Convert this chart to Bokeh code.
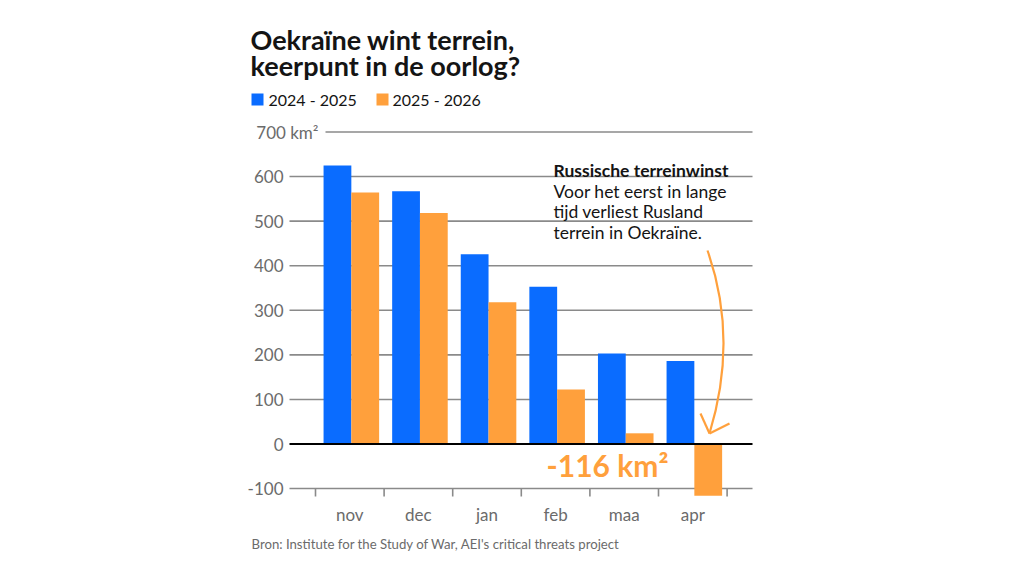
from bokeh.plotting import figure
from bokeh.models import Range1d
from bokeh.core.properties import value
from bokeh.embed import file_html
from bokeh.resources import INLINE

# --- data -------------------------------------------------------------
months = ["nov", "dec", "jan", "feb", "maa", "apr"]
gain_2024_2025 = [625, 567, 426, 353, 203, 186]
gain_2025_2026 = [564, 518, 318, 122, 24, -116]
series_names = ["2024 - 2025", "2025 - 2026"]
y_ticks = [-100, 0, 100, 200, 300, 400, 500, 600, 700]
y_tick_labels = ["-100", "0", "100", "200", "300", "400", "500", "600", "700 km²"]

# --- style ------------------------------------------------------------
BLUE = "#0a6cff"
ORANGE = "#ffa03c"
GRID = "#8a8a8a"
LABEL = "#6b6b6b"
INK = "#141414"
FONT = "Lato"

W, H = 1024, 576
# canvas geometry: one category is UNIT_PX wide, first boundary at X0_PX;
# y = 0 sits at Y0_PX and KM_PX pixels make one km²
X0_PX, UNIT_PX = 315.0, 68.6
Y0_PX, KM_PX = 443.5, 312.0 / 700.0


def px2x(px):
    return (px - X0_PX) / UNIT_PX


def px2y(py):
    return (Y0_PX - py) / KM_PX


p = figure(
    width=W, height=H,
    x_range=Range1d(px2x(0), px2x(W)),
    y_range=Range1d(px2y(H), px2y(0)),
    x_axis_location=None, y_axis_location=None,
    toolbar_location=None, output_backend="svg",
    min_border=0, outline_line_color=None,
)
p.grid.visible = False
p.background_fill_color = "white"
p.border_fill_color = "white"

# horizontal grid lines (the 700 line starts after its longer label)
grid_y = [t for t in y_ticks if t != 0]
grid_x0 = [px2x(325) if t == 700 else px2x(289) for t in grid_y]
p.segment(x0=grid_x0, y0=grid_y, x1=[px2x(752)] * len(grid_y), y1=grid_y,
          line_color=GRID, line_width=1.6)

# y tick labels, right-aligned just before their grid line
label_x = [px2x(318) if t == 700 else px2x(283) for t in y_ticks]
p.text(x=label_x, y=y_ticks, text=y_tick_labels,
       text_font=value(FONT), text_font_size="17px", text_color=LABEL,
       text_align="right", text_baseline="middle")

# bars
idx = list(range(len(months)))
p.vbar(x=[i + 0.32 for i in idx], top=gain_2024_2025, bottom=0, width=0.405,
       fill_color=BLUE, line_color=None)
p.vbar(x=[i + 0.725 for i in idx], top=gain_2025_2026, bottom=0, width=0.405,
       fill_color=ORANGE, line_color=None)

# zero line on top of bars
p.segment(x0=[px2x(289)], y0=[0], x1=[px2x(752)], y1=[0],
          line_color="black", line_width=2)

# category ticks and labels
bounds = list(range(len(months) + 1))
p.segment(x0=bounds, y0=[-100] * len(bounds), x1=bounds,
          y1=[px2y(496)] * len(bounds), line_color=GRID, line_width=1.6)
p.text(x=[i + 0.5 for i in idx], y=[px2y(514)] * len(months), text=months,
       text_font=value(FONT), text_font_size="17px", text_color=LABEL,
       text_align="center", text_baseline="middle")

# title
p.text(x=[px2x(250)] * 2, y=[px2y(39), px2y(65)],
       text=["Oekraïne wint terrein,", "keerpunt in de oorlog?"],
       text_font=value(FONT), text_font_style="bold", text_font_size="27px",
       text_color=INK, text_align="left", text_baseline="middle")

# legend
p.scatter(x=[px2x(257), px2x(382)], y=[px2y(99)] * 2, marker="square", size=12,
          fill_color=[BLUE, ORANGE], line_color=None)
p.text(x=[px2x(268), px2x(392)], y=[px2y(99)] * 2, text=series_names,
       text_font=value(FONT), text_font_size="16px", text_color=INK,
       text_align="left", text_baseline="middle")

# annotation
p.text(x=[px2x(553)], y=[px2y(170)], text=["Russische terreinwinst"],
       text_font=value(FONT), text_font_style="bold", text_font_size="17.5px",
       text_color=INK, text_align="left", text_baseline="middle")
p.text(x=[px2x(553)] * 3, y=[px2y(190.5), px2y(211), px2y(231.5)],
       text=["Voor het eerst in lange", "tijd verliest Rusland",
             "terrein in Oekraïne."],
       text_font=value(FONT), text_font_size="17.5px", text_color=INK,
       text_align="left", text_baseline="middle")

# curved arrow pointing at the last bar
p.quadratic(x0=[px2x(707)], y0=[px2y(250)], x1=[px2x(709)], y1=[px2y(433)],
            cx=[px2x(738)], cy=[px2y(338)], line_color=ORANGE, line_width=2.2)
p.segment(x0=[px2x(709), px2x(709)], y0=[px2y(433), px2y(433)],
          x1=[px2x(700), px2x(729)], y1=[px2y(413), px2y(423)],
          line_color=ORANGE, line_width=2.2)

# value callout for the last month
last_value = gain_2025_2026[-1]
p.text(x=[px2x(607)], y=[px2y(464)], text=[f"{last_value} km²"],
       text_font=value(FONT), text_font_style="bold", text_font_size="30px",
       text_color=ORANGE, text_align="center", text_baseline="middle")

# source line
p.text(x=[px2x(251)], y=[px2y(543)],
       text=["Bron: Institute for the Study of War, AEI's critical threats project"],
       text_font=value(FONT), text_font_size="13.2px", text_color=LABEL,
       text_align="left", text_baseline="middle")

open("out.html", "w").write(file_html(p, INLINE))
